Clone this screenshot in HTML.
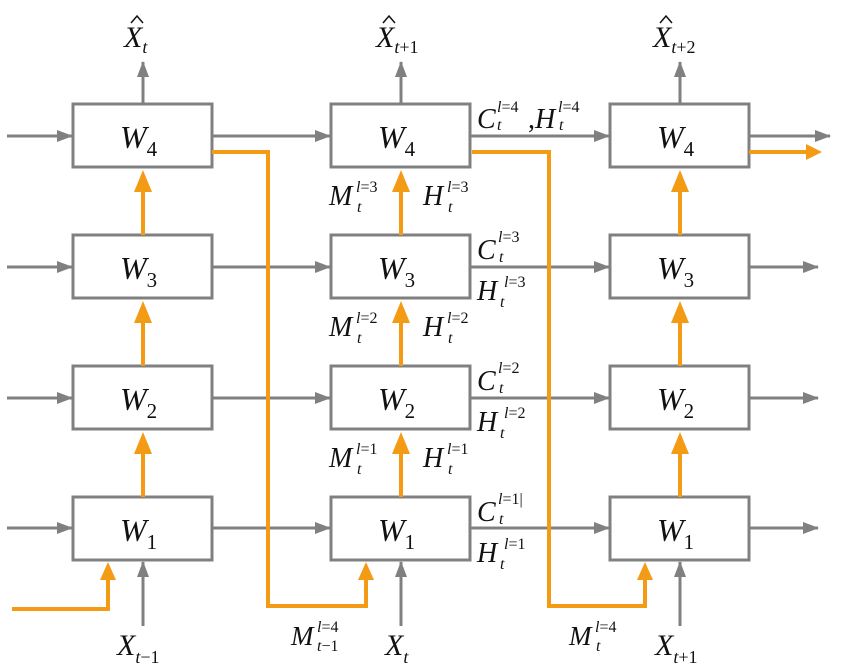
<!DOCTYPE html>
<html><head><meta charset="utf-8"><style>
html,body{margin:0;padding:0;background:#fff;}
svg{display:block;}
text{font-family:"Liberation Serif",serif;font-style:italic;fill:#111;}
.s{font-size:16px;}
.n{font-style:normal;}
</style></head><body>
<svg width="848" height="668" viewBox="0 0 848 668" xmlns="http://www.w3.org/2000/svg">
<defs>
<marker id="g" markerWidth="16" markerHeight="14" refX="15" refY="7" orient="auto" markerUnits="userSpaceOnUse"><path d="M0,1 L16,7 L0,13 z" fill="#808080"/></marker>
</defs>
<g fill="none" stroke="#808080" stroke-width="3">
<rect x="73" y="104" width="139" height="63"/><rect x="73" y="235" width="139" height="63"/><rect x="73" y="366" width="139" height="63"/><rect x="73" y="497" width="139" height="63"/>
<rect x="331" y="104" width="139" height="63"/><rect x="331" y="235" width="139" height="63"/><rect x="331" y="366" width="139" height="63"/><rect x="331" y="497" width="139" height="63"/>
<rect x="610" y="104" width="139" height="63"/><rect x="610" y="235" width="139" height="63"/><rect x="610" y="366" width="139" height="63"/><rect x="610" y="497" width="139" height="63"/>
</g>
<g stroke="#808080" stroke-width="3" marker-end="url(#g)">
<line x1="7" y1="136" x2="72" y2="136"/><line x1="7" y1="267" x2="72" y2="267"/><line x1="7" y1="398" x2="72" y2="398"/><line x1="7" y1="528" x2="72" y2="528"/>
<line x1="212" y1="136" x2="330" y2="136"/><line x1="212" y1="267" x2="330" y2="267"/><line x1="212" y1="398" x2="330" y2="398"/><line x1="212" y1="528" x2="330" y2="528"/>
<line x1="470" y1="136" x2="609" y2="136"/><line x1="470" y1="267" x2="609" y2="267"/><line x1="470" y1="398" x2="609" y2="398"/><line x1="470" y1="528" x2="609" y2="528"/>
<line x1="749" y1="136" x2="830" y2="136"/><line x1="749" y1="267" x2="818" y2="267"/><line x1="749" y1="398" x2="818" y2="398"/><line x1="749" y1="528" x2="818" y2="528"/>
<line x1="143" y1="104" x2="143" y2="62"/><line x1="401" y1="104" x2="401" y2="62"/><line x1="680" y1="104" x2="680" y2="62"/>
<line x1="143" y1="626" x2="143" y2="562"/><line x1="401" y1="626" x2="401" y2="562"/><line x1="680" y1="626" x2="680" y2="562"/>
</g>
<g fill="none" stroke="#f49b16" stroke-width="4">
<polyline points="212,152 268,152 268,606 366,606 366,578"/>
<polyline points="472,152 549,152 549,606 645,606 645,578"/>
<polyline points="12,609 108,609 108,578"/>
<line x1="749" y1="152" x2="808" y2="152"/>
<line x1="143" y1="497" x2="143" y2="452"/><line x1="143" y1="366" x2="143" y2="321"/><line x1="143" y1="235" x2="143" y2="190"/>
<line x1="401" y1="497" x2="401" y2="452"/><line x1="401" y1="366" x2="401" y2="321"/><line x1="401" y1="235" x2="401" y2="190"/>
<line x1="680" y1="497" x2="680" y2="452"/><line x1="680" y1="366" x2="680" y2="321"/><line x1="680" y1="235" x2="680" y2="190"/>
</g>
<g fill="#f49b16">
<path d="M806,144 L822,152 L806,160z"/>
<path d="M100,580 L108,562 L116,580z"/><path d="M358,580 L366,562 L374,580z"/><path d="M637,580 L645,562 L653,580z"/>
<path d="M134,192 L143,170 L152,192z"/><path d="M134,323 L143,301 L152,323z"/><path d="M134,454 L143,432 L152,454z"/>
<path d="M392,192 L401,170 L410,192z"/><path d="M392,323 L401,301 L410,323z"/><path d="M392,454 L401,432 L410,454z"/>
<path d="M671,192 L680,170 L689,192z"/><path d="M671,323 L680,301 L689,323z"/><path d="M671,454 L680,432 L689,454z"/>
</g>
<g font-size="32">
<text x="120" y="148">W<tspan class="n" font-size="21" dy="8">4</tspan></text>
<text x="120" y="279">W<tspan class="n" font-size="21" dy="8">3</tspan></text>
<text x="120" y="410">W<tspan class="n" font-size="21" dy="8">2</tspan></text>
<text x="120" y="541">W<tspan class="n" font-size="21" dy="8">1</tspan></text>
<text x="378" y="148">W<tspan class="n" font-size="21" dy="8">4</tspan></text>
<text x="378" y="279">W<tspan class="n" font-size="21" dy="8">3</tspan></text>
<text x="378" y="410">W<tspan class="n" font-size="21" dy="8">2</tspan></text>
<text x="378" y="541">W<tspan class="n" font-size="21" dy="8">1</tspan></text>
<text x="657" y="148">W<tspan class="n" font-size="21" dy="8">4</tspan></text>
<text x="657" y="279">W<tspan class="n" font-size="21" dy="8">3</tspan></text>
<text x="657" y="410">W<tspan class="n" font-size="21" dy="8">2</tspan></text>
<text x="657" y="541">W<tspan class="n" font-size="21" dy="8">1</tspan></text>
</g>
<g fill="none" stroke="#111" stroke-width="1.5">
<polyline points="131,23 137,16 143,23"/><polyline points="383,23 389,16 395,23"/><polyline points="660,23 666,16 672,23"/>
</g>
<g font-size="30">
<text x="124" y="47">X<tspan font-size="18" dy="6">t</tspan></text>
<text x="376" y="47">X<tspan font-size="18" dy="6">t</tspan><tspan class="n" font-size="18">+1</tspan></text>
<text x="653" y="47">X<tspan font-size="18" dy="6">t</tspan><tspan class="n" font-size="18">+2</tspan></text>
</g>
<g font-size="30">
<text x="117" y="655">X<tspan font-size="18" dy="8">t</tspan><tspan class="n" font-size="18">−1</tspan></text>
<text x="385" y="655">X<tspan font-size="18" dy="8">t</tspan></text>
<text x="655" y="655">X<tspan font-size="18" dy="8">t</tspan><tspan class="n" font-size="18">+1</tspan></text>
<text x="291" y="645" font-size="27">M</text><text x="317" y="632" class="s">l<tspan class="n">=4</tspan></text><text x="317" y="651" class="s">t<tspan class="n">−1</tspan></text>
<text x="569" y="645" font-size="27">M</text><text x="595" y="632" class="s">l<tspan class="n">=4</tspan></text><text x="596" y="651" class="s">t</text>
</g>
<g font-size="28">
<text x="329" y="205">M</text><text x="356" y="192" class="s">l<tspan class="n">=3</tspan></text><text x="357" y="212" class="s">t</text>
<text x="423" y="205">H</text><text x="447" y="192" class="s">l<tspan class="n">=3</tspan></text><text x="448" y="212" class="s">t</text>
<text x="329" y="336">M</text><text x="356" y="323" class="s">l<tspan class="n">=2</tspan></text><text x="357" y="343" class="s">t</text>
<text x="423" y="336">H</text><text x="447" y="323" class="s">l<tspan class="n">=2</tspan></text><text x="448" y="343" class="s">t</text>
<text x="329" y="467">M</text><text x="356" y="454" class="s">l<tspan class="n">=1</tspan></text><text x="357" y="474" class="s">t</text>
<text x="423" y="467">H</text><text x="447" y="454" class="s">l<tspan class="n">=1</tspan></text><text x="448" y="474" class="s">t</text>
<text x="477" y="128">C</text><text x="497" y="112" class="s">l<tspan class="n">=4</tspan></text><text x="497" y="130" class="s">t</text>
<text x="528" y="128" class="n">,</text><text x="535" y="128">H</text><text x="558" y="112" class="s">l<tspan class="n">=4</tspan></text><text x="559" y="130" class="s">t</text>
<text x="477" y="259">C</text><text x="498" y="242" class="s">l<tspan class="n">=3</tspan></text><text x="499" y="262" class="s">t</text>
<text x="477" y="300">H</text><text x="504" y="287" class="s">l<tspan class="n">=3</tspan></text><text x="500" y="307" class="s">t</text>
<text x="477" y="390">C</text><text x="498" y="373" class="s">l<tspan class="n">=2</tspan></text><text x="499" y="393" class="s">t</text>
<text x="477" y="431">H</text><text x="504" y="418" class="s">l<tspan class="n">=2</tspan></text><text x="500" y="438" class="s">t</text>
<text x="477" y="521">C</text><text x="498" y="504" class="s">l<tspan class="n">=1|</tspan></text><text x="499" y="524" class="s">t</text>
<text x="477" y="562">H</text><text x="504" y="549" class="s">l<tspan class="n">=1</tspan></text><text x="500" y="569" class="s">t</text>
</g>
</svg>
</body></html>
